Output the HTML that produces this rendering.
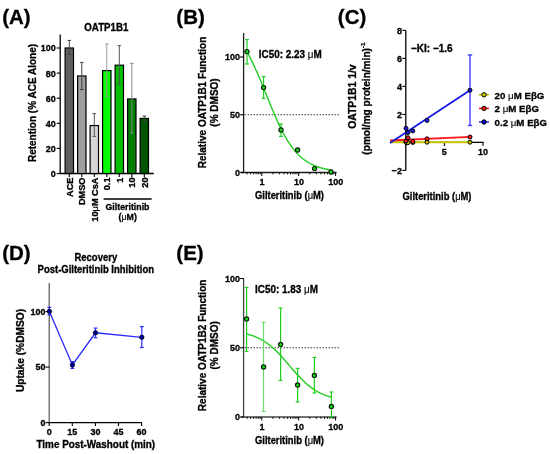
<!DOCTYPE html>
<html><head><meta charset="utf-8"><style>
html,body{margin:0;padding:0;background:#fff;width:550px;height:454px;overflow:hidden}
svg{position:absolute;left:0;top:0;will-change:transform}
text{font-family:"Liberation Sans",sans-serif;font-weight:bold;stroke:#000;stroke-width:0.3px}
</style></head><body>
<svg width="550" height="454" viewBox="0 0 550 454">
<rect width="550" height="454" fill="#fff"/>
<text transform="translate(2.20,24.20) scale(1,1.0)" font-size="20.5" text-anchor="start" fill="#000" >(A)</text>
<text transform="translate(176.30,24.20) scale(1,1.0)" font-size="20.5" text-anchor="start" fill="#000" >(B)</text>
<text transform="translate(337.80,24.20) scale(1,1.0)" font-size="20.5" text-anchor="start" fill="#000" >(C)</text>
<text transform="translate(2.20,260.20) scale(1,1.0)" font-size="20.5" text-anchor="start" fill="#000" >(D)</text>
<text transform="translate(176.30,260.20) scale(1,1.0)" font-size="20.5" text-anchor="start" fill="#000" >(E)</text>
<text transform="translate(106.30,30.80) scale(1,1.08)" font-size="9.7" text-anchor="middle" fill="#000" >OATP1B1</text>
<line x1="60.20" y1="34.50" x2="60.20" y2="174.10" stroke="#000" stroke-width="1.3" />
<line x1="59.60" y1="173.50" x2="153.80" y2="173.50" stroke="#000" stroke-width="1.3" />
<line x1="56.70" y1="173.50" x2="60.20" y2="173.50" stroke="#000" stroke-width="1.1" />
<text transform="translate(55.80,176.90) scale(1,1.08)" font-size="9" text-anchor="end" fill="#000" >0</text>
<line x1="56.70" y1="148.40" x2="60.20" y2="148.40" stroke="#000" stroke-width="1.1" />
<text transform="translate(55.80,151.80) scale(1,1.08)" font-size="9" text-anchor="end" fill="#000" >20</text>
<line x1="56.70" y1="123.30" x2="60.20" y2="123.30" stroke="#000" stroke-width="1.1" />
<text transform="translate(55.80,126.70) scale(1,1.08)" font-size="9" text-anchor="end" fill="#000" >40</text>
<line x1="56.70" y1="98.20" x2="60.20" y2="98.20" stroke="#000" stroke-width="1.1" />
<text transform="translate(55.80,101.60) scale(1,1.08)" font-size="9" text-anchor="end" fill="#000" >60</text>
<line x1="56.70" y1="73.10" x2="60.20" y2="73.10" stroke="#000" stroke-width="1.1" />
<text transform="translate(55.80,76.50) scale(1,1.08)" font-size="9" text-anchor="end" fill="#000" >80</text>
<line x1="56.70" y1="48.00" x2="60.20" y2="48.00" stroke="#000" stroke-width="1.1" />
<text transform="translate(55.80,51.40) scale(1,1.08)" font-size="9" text-anchor="end" fill="#000" >100</text>
<text transform="translate(36.00,103.00) rotate(-90)" font-size="10" text-anchor="middle" fill="#000" >Retention (% ACE Alone)</text>
<rect x="65.10" y="48.00" width="8.40" height="125.50" fill="#5f5f5f" stroke="#000" stroke-width="1.2"/>
<line x1="69.30" y1="40.40" x2="69.30" y2="48.00" stroke="#444" stroke-width="1.0" />
<line x1="67.50" y1="40.40" x2="71.10" y2="40.40" stroke="#444" stroke-width="1.0" />
<line x1="69.30" y1="48.00" x2="69.30" y2="54.40" stroke="#444" stroke-width="1.0" />
<line x1="67.50" y1="54.40" x2="71.10" y2="54.40" stroke="#444" stroke-width="1.0" />
<line x1="69.30" y1="173.50" x2="69.30" y2="177.00" stroke="#000" stroke-width="1.1" />
<text transform="translate(72.50,177.50) rotate(-90)" font-size="9.2" text-anchor="end" fill="#000" >ACE</text>
<rect x="77.60" y="75.99" width="8.40" height="97.51" fill="#9e9e9e" stroke="#000" stroke-width="1.2"/>
<line x1="81.80" y1="62.40" x2="81.80" y2="75.99" stroke="#444" stroke-width="1.0" />
<line x1="80.00" y1="62.40" x2="83.60" y2="62.40" stroke="#444" stroke-width="1.0" />
<line x1="81.80" y1="75.99" x2="81.80" y2="89.60" stroke="#444" stroke-width="1.0" />
<line x1="80.00" y1="89.60" x2="83.60" y2="89.60" stroke="#444" stroke-width="1.0" />
<line x1="81.80" y1="173.50" x2="81.80" y2="177.00" stroke="#000" stroke-width="1.1" />
<text transform="translate(85.00,177.50) rotate(-90)" font-size="9.2" text-anchor="end" fill="#000" >DMSO</text>
<rect x="90.10" y="125.56" width="8.40" height="47.94" fill="#d6d6d6" stroke="#000" stroke-width="1.2"/>
<line x1="94.30" y1="113.60" x2="94.30" y2="125.56" stroke="#555" stroke-width="1.0" />
<line x1="92.50" y1="113.60" x2="96.10" y2="113.60" stroke="#555" stroke-width="1.0" />
<line x1="94.30" y1="125.56" x2="94.30" y2="136.40" stroke="#555" stroke-width="1.0" />
<line x1="92.50" y1="136.40" x2="96.10" y2="136.40" stroke="#555" stroke-width="1.0" />
<line x1="94.30" y1="173.50" x2="94.30" y2="177.00" stroke="#000" stroke-width="1.1" />
<text transform="translate(97.50,177.50) rotate(-90)" font-size="9.2" text-anchor="end" fill="#000" >10<tspan style="font-weight:normal;stroke-width:0.15px">&#956;</tspan>M CsA</text>
<rect x="102.60" y="70.59" width="8.40" height="102.91" fill="#00ff00" stroke="#000" stroke-width="1.2"/>
<line x1="106.80" y1="44.00" x2="106.80" y2="70.59" stroke="#999" stroke-width="1.0" />
<line x1="105.00" y1="44.00" x2="108.60" y2="44.00" stroke="#999" stroke-width="1.0" />
<line x1="106.80" y1="70.59" x2="106.80" y2="96.50" stroke="#999" stroke-width="1.0" />
<line x1="105.00" y1="96.50" x2="108.60" y2="96.50" stroke="#999" stroke-width="1.0" />
<line x1="106.80" y1="173.50" x2="106.80" y2="177.00" stroke="#000" stroke-width="1.1" />
<text transform="translate(110.00,177.50) rotate(-90)" font-size="9.2" text-anchor="end" fill="#000" >0.1</text>
<rect x="115.10" y="65.19" width="8.40" height="108.31" fill="#00c000" stroke="#000" stroke-width="1.2"/>
<line x1="119.30" y1="45.60" x2="119.30" y2="65.19" stroke="#555" stroke-width="1.0" />
<line x1="117.50" y1="45.60" x2="121.10" y2="45.60" stroke="#555" stroke-width="1.0" />
<line x1="119.30" y1="65.19" x2="119.30" y2="84.40" stroke="#555" stroke-width="1.0" />
<line x1="117.50" y1="84.40" x2="121.10" y2="84.40" stroke="#555" stroke-width="1.0" />
<line x1="119.30" y1="173.50" x2="119.30" y2="177.00" stroke="#000" stroke-width="1.1" />
<text transform="translate(122.50,177.50) rotate(-90)" font-size="9.2" text-anchor="end" fill="#000" >1</text>
<rect x="127.60" y="98.95" width="8.40" height="74.55" fill="#008000" stroke="#000" stroke-width="1.2"/>
<line x1="131.80" y1="63.40" x2="131.80" y2="98.95" stroke="#888" stroke-width="1.0" />
<line x1="130.00" y1="63.40" x2="133.60" y2="63.40" stroke="#888" stroke-width="1.0" />
<line x1="131.80" y1="98.95" x2="131.80" y2="133.00" stroke="#888" stroke-width="1.0" />
<line x1="130.00" y1="133.00" x2="133.60" y2="133.00" stroke="#888" stroke-width="1.0" />
<line x1="131.80" y1="173.50" x2="131.80" y2="177.00" stroke="#000" stroke-width="1.1" />
<text transform="translate(135.00,177.50) rotate(-90)" font-size="9.2" text-anchor="end" fill="#000" >10</text>
<rect x="140.10" y="118.41" width="8.40" height="55.09" fill="#005500" stroke="#000" stroke-width="1.2"/>
<line x1="144.30" y1="116.00" x2="144.30" y2="118.41" stroke="#444" stroke-width="1.0" />
<line x1="142.50" y1="116.00" x2="146.10" y2="116.00" stroke="#444" stroke-width="1.0" />
<line x1="144.30" y1="118.41" x2="144.30" y2="121.00" stroke="#444" stroke-width="1.0" />
<line x1="142.50" y1="121.00" x2="146.10" y2="121.00" stroke="#444" stroke-width="1.0" />
<line x1="144.30" y1="173.50" x2="144.30" y2="177.00" stroke="#000" stroke-width="1.1" />
<text transform="translate(147.50,177.50) rotate(-90)" font-size="9.2" text-anchor="end" fill="#000" >20</text>
<line x1="103.60" y1="199.00" x2="151.60" y2="199.00" stroke="#000" stroke-width="1.5" />
<text transform="translate(127.50,210.00) scale(1,1.08)" font-size="8.8" text-anchor="middle" fill="#000" >Gilteritinib</text>
<text transform="translate(127.70,220.00) scale(1,1.08)" font-size="8.8" text-anchor="middle" fill="#000" >(<tspan style="font-weight:normal;stroke-width:0.15px">&#956;</tspan>M)</text>
<line x1="243.60" y1="33.00" x2="243.60" y2="173.10" stroke="#1a1a1a" stroke-width="1.3" />
<line x1="241.00" y1="172.50" x2="336.60" y2="172.50" stroke="#1a1a1a" stroke-width="1.3" />
<line x1="240.10" y1="172.50" x2="243.60" y2="172.50" stroke="#000" stroke-width="1.1" />
<text transform="translate(239.90,175.90) scale(1,1.08)" font-size="9" text-anchor="end" fill="#000" >0</text>
<line x1="240.10" y1="114.75" x2="243.60" y2="114.75" stroke="#000" stroke-width="1.1" />
<text transform="translate(239.90,118.15) scale(1,1.08)" font-size="9" text-anchor="end" fill="#000" >50</text>
<line x1="240.10" y1="57.00" x2="243.60" y2="57.00" stroke="#000" stroke-width="1.1" />
<text transform="translate(239.90,60.40) scale(1,1.08)" font-size="9" text-anchor="end" fill="#000" >100</text>
<line x1="247.12" y1="172.50" x2="247.12" y2="174.30" stroke="#000" stroke-width="1.0" />
<line x1="250.69" y1="172.50" x2="250.69" y2="174.30" stroke="#000" stroke-width="1.0" />
<line x1="253.61" y1="172.50" x2="253.61" y2="174.30" stroke="#000" stroke-width="1.0" />
<line x1="256.08" y1="172.50" x2="256.08" y2="174.30" stroke="#000" stroke-width="1.0" />
<line x1="258.22" y1="172.50" x2="258.22" y2="174.30" stroke="#000" stroke-width="1.0" />
<line x1="260.11" y1="172.50" x2="260.11" y2="174.30" stroke="#000" stroke-width="1.0" />
<line x1="261.80" y1="172.50" x2="261.80" y2="176.00" stroke="#000" stroke-width="1.0" />
<line x1="272.91" y1="172.50" x2="272.91" y2="174.30" stroke="#000" stroke-width="1.0" />
<line x1="279.41" y1="172.50" x2="279.41" y2="174.30" stroke="#000" stroke-width="1.0" />
<line x1="284.02" y1="172.50" x2="284.02" y2="174.30" stroke="#000" stroke-width="1.0" />
<line x1="287.59" y1="172.50" x2="287.59" y2="174.30" stroke="#000" stroke-width="1.0" />
<line x1="290.51" y1="172.50" x2="290.51" y2="174.30" stroke="#000" stroke-width="1.0" />
<line x1="292.98" y1="172.50" x2="292.98" y2="174.30" stroke="#000" stroke-width="1.0" />
<line x1="295.12" y1="172.50" x2="295.12" y2="174.30" stroke="#000" stroke-width="1.0" />
<line x1="297.01" y1="172.50" x2="297.01" y2="174.30" stroke="#000" stroke-width="1.0" />
<line x1="298.70" y1="172.50" x2="298.70" y2="176.00" stroke="#000" stroke-width="1.0" />
<line x1="309.81" y1="172.50" x2="309.81" y2="174.30" stroke="#000" stroke-width="1.0" />
<line x1="316.31" y1="172.50" x2="316.31" y2="174.30" stroke="#000" stroke-width="1.0" />
<line x1="320.92" y1="172.50" x2="320.92" y2="174.30" stroke="#000" stroke-width="1.0" />
<line x1="324.49" y1="172.50" x2="324.49" y2="174.30" stroke="#000" stroke-width="1.0" />
<line x1="327.41" y1="172.50" x2="327.41" y2="174.30" stroke="#000" stroke-width="1.0" />
<line x1="329.88" y1="172.50" x2="329.88" y2="174.30" stroke="#000" stroke-width="1.0" />
<line x1="332.02" y1="172.50" x2="332.02" y2="174.30" stroke="#000" stroke-width="1.0" />
<line x1="333.91" y1="172.50" x2="333.91" y2="174.30" stroke="#000" stroke-width="1.0" />
<line x1="335.60" y1="172.50" x2="335.60" y2="176.00" stroke="#000" stroke-width="1.0" />
<text transform="translate(262.00,185.00) scale(1,1.08)" font-size="9" text-anchor="middle" fill="#000" >1</text>
<text transform="translate(299.00,185.00) scale(1,1.08)" font-size="9" text-anchor="middle" fill="#000" >10</text>
<text transform="translate(335.80,185.00) scale(1,1.08)" font-size="9" text-anchor="middle" fill="#000" >100</text>
<text transform="translate(289.50,199.30) scale(1,1.08)" font-size="9.4" text-anchor="middle" fill="#000" >Gilteritinib (<tspan style="font-weight:normal;stroke-width:0.15px">&#956;</tspan>M)</text>
<line x1="244.60" y1="114.75" x2="340.00" y2="114.75" stroke="#000" stroke-width="1.0" stroke-dasharray="1.2,1.8"/>
<polyline points="247.00,51.98 248.42,54.52 249.85,57.19 251.27,59.97 252.69,62.87 254.12,65.87 255.54,68.98 256.97,72.18 258.39,75.47 259.81,78.83 261.24,82.25 262.66,85.72 264.08,89.22 265.51,92.75 266.93,96.28 268.36,99.81 269.78,103.32 271.20,106.79 272.63,110.21 274.05,113.56 275.47,116.85 276.90,120.05 278.32,123.16 279.75,126.16 281.17,129.06 282.59,131.85 284.02,134.51 285.44,137.05 286.86,139.48 288.29,141.77 289.71,143.95 291.14,146.00 292.56,147.94 293.98,149.76 295.41,151.46 296.83,153.06 298.25,154.55 299.68,155.94 301.10,157.23 302.53,158.44 303.95,159.56 305.37,160.59 306.80,161.55 308.22,162.44 309.64,163.26 311.07,164.02 312.49,164.72 313.92,165.36 315.34,165.95 316.76,166.50 318.19,167.00 319.61,167.46 321.03,167.88 322.46,168.27 323.88,168.63 325.31,168.96 326.73,169.26 328.15,169.53 329.58,169.79 331.00,170.02" fill="none" stroke="#22cc22" stroke-width="1.4" />
<line x1="247.00" y1="39.60" x2="247.00" y2="64.00" stroke="#22cc22" stroke-width="1.2" />
<line x1="245.10" y1="39.60" x2="248.90" y2="39.60" stroke="#22cc22" stroke-width="1.2" />
<line x1="245.10" y1="64.00" x2="248.90" y2="64.00" stroke="#22cc22" stroke-width="1.2" />
<line x1="263.60" y1="76.60" x2="263.60" y2="98.40" stroke="#22cc22" stroke-width="1.2" />
<line x1="261.70" y1="76.60" x2="265.50" y2="76.60" stroke="#22cc22" stroke-width="1.2" />
<line x1="261.70" y1="98.40" x2="265.50" y2="98.40" stroke="#22cc22" stroke-width="1.2" />
<line x1="281.00" y1="124.00" x2="281.00" y2="136.40" stroke="#22cc22" stroke-width="1.2" />
<line x1="279.10" y1="124.00" x2="282.90" y2="124.00" stroke="#22cc22" stroke-width="1.2" />
<line x1="279.10" y1="136.40" x2="282.90" y2="136.40" stroke="#22cc22" stroke-width="1.2" />
<circle cx="247.00" cy="51.60" r="2.1" fill="#11dd11" stroke="#0a1a0a" stroke-width="1.15"/>
<circle cx="263.60" cy="87.60" r="2.1" fill="#11dd11" stroke="#0a1a0a" stroke-width="1.15"/>
<circle cx="281.00" cy="130.00" r="2.1" fill="#11dd11" stroke="#0a1a0a" stroke-width="1.15"/>
<circle cx="297.60" cy="150.00" r="2.1" fill="#11dd11" stroke="#0a1a0a" stroke-width="1.15"/>
<circle cx="314.60" cy="168.60" r="2.1" fill="#11dd11" stroke="#0a1a0a" stroke-width="1.15"/>
<circle cx="331.00" cy="172.00" r="2.1" fill="#11dd11" stroke="#0a1a0a" stroke-width="1.15"/>
<text transform="translate(258.80,58.40) scale(1,1.08)" font-size="9.9" text-anchor="start" fill="#000" >IC50: 2.23 <tspan style="font-weight:normal;stroke-width:0.15px">&#956;</tspan>M</text>
<text transform="translate(206.20,102.50) rotate(-90)" font-size="10" text-anchor="middle" fill="#000" >Relative OATP1B1 Function</text>
<text transform="translate(218.20,102.50) rotate(-90)" font-size="10" text-anchor="middle" fill="#000" >(% DMSO)</text>
<line x1="243.60" y1="278.20" x2="243.60" y2="417.60" stroke="#444" stroke-width="1.3" />
<line x1="241.00" y1="417.00" x2="336.60" y2="417.00" stroke="#444" stroke-width="1.3" />
<line x1="240.10" y1="417.00" x2="243.60" y2="417.00" stroke="#000" stroke-width="1.1" />
<text transform="translate(239.90,420.40) scale(1,1.08)" font-size="9" text-anchor="end" fill="#000" >0</text>
<line x1="240.10" y1="347.75" x2="243.60" y2="347.75" stroke="#000" stroke-width="1.1" />
<text transform="translate(239.90,351.15) scale(1,1.08)" font-size="9" text-anchor="end" fill="#000" >50</text>
<line x1="240.10" y1="278.50" x2="243.60" y2="278.50" stroke="#000" stroke-width="1.1" />
<text transform="translate(239.90,281.90) scale(1,1.08)" font-size="9" text-anchor="end" fill="#000" >100</text>
<line x1="247.12" y1="417.00" x2="247.12" y2="418.80" stroke="#000" stroke-width="1.0" />
<line x1="250.69" y1="417.00" x2="250.69" y2="418.80" stroke="#000" stroke-width="1.0" />
<line x1="253.61" y1="417.00" x2="253.61" y2="418.80" stroke="#000" stroke-width="1.0" />
<line x1="256.08" y1="417.00" x2="256.08" y2="418.80" stroke="#000" stroke-width="1.0" />
<line x1="258.22" y1="417.00" x2="258.22" y2="418.80" stroke="#000" stroke-width="1.0" />
<line x1="260.11" y1="417.00" x2="260.11" y2="418.80" stroke="#000" stroke-width="1.0" />
<line x1="261.80" y1="417.00" x2="261.80" y2="420.50" stroke="#000" stroke-width="1.0" />
<line x1="272.91" y1="417.00" x2="272.91" y2="418.80" stroke="#000" stroke-width="1.0" />
<line x1="279.41" y1="417.00" x2="279.41" y2="418.80" stroke="#000" stroke-width="1.0" />
<line x1="284.02" y1="417.00" x2="284.02" y2="418.80" stroke="#000" stroke-width="1.0" />
<line x1="287.59" y1="417.00" x2="287.59" y2="418.80" stroke="#000" stroke-width="1.0" />
<line x1="290.51" y1="417.00" x2="290.51" y2="418.80" stroke="#000" stroke-width="1.0" />
<line x1="292.98" y1="417.00" x2="292.98" y2="418.80" stroke="#000" stroke-width="1.0" />
<line x1="295.12" y1="417.00" x2="295.12" y2="418.80" stroke="#000" stroke-width="1.0" />
<line x1="297.01" y1="417.00" x2="297.01" y2="418.80" stroke="#000" stroke-width="1.0" />
<line x1="298.70" y1="417.00" x2="298.70" y2="420.50" stroke="#000" stroke-width="1.0" />
<line x1="309.81" y1="417.00" x2="309.81" y2="418.80" stroke="#000" stroke-width="1.0" />
<line x1="316.31" y1="417.00" x2="316.31" y2="418.80" stroke="#000" stroke-width="1.0" />
<line x1="320.92" y1="417.00" x2="320.92" y2="418.80" stroke="#000" stroke-width="1.0" />
<line x1="324.49" y1="417.00" x2="324.49" y2="418.80" stroke="#000" stroke-width="1.0" />
<line x1="327.41" y1="417.00" x2="327.41" y2="418.80" stroke="#000" stroke-width="1.0" />
<line x1="329.88" y1="417.00" x2="329.88" y2="418.80" stroke="#000" stroke-width="1.0" />
<line x1="332.02" y1="417.00" x2="332.02" y2="418.80" stroke="#000" stroke-width="1.0" />
<line x1="333.91" y1="417.00" x2="333.91" y2="418.80" stroke="#000" stroke-width="1.0" />
<line x1="335.60" y1="417.00" x2="335.60" y2="420.50" stroke="#000" stroke-width="1.0" />
<text transform="translate(262.00,429.50) scale(1,1.08)" font-size="9" text-anchor="middle" fill="#000" >1</text>
<text transform="translate(299.00,429.50) scale(1,1.08)" font-size="9" text-anchor="middle" fill="#000" >10</text>
<text transform="translate(335.80,429.50) scale(1,1.08)" font-size="9" text-anchor="middle" fill="#000" >100</text>
<text transform="translate(289.50,443.80) scale(1,1.08)" font-size="9.4" text-anchor="middle" fill="#000" >Gilteritinib (<tspan style="font-weight:normal;stroke-width:0.15px">&#956;</tspan>M)</text>
<line x1="244.60" y1="347.75" x2="340.00" y2="347.75" stroke="#000" stroke-width="1.0" stroke-dasharray="1.2,1.8"/>
<polyline points="246.60,333.94 248.04,334.32 249.47,334.72 250.91,335.16 252.35,335.64 253.79,336.16 255.22,336.72 256.66,337.32 258.10,337.97 259.54,338.67 260.97,339.42 262.41,340.23 263.85,341.09 265.28,342.00 266.72,342.98 268.16,344.02 269.60,345.12 271.03,346.28 272.47,347.50 273.91,348.78 275.35,350.12 276.78,351.52 278.22,352.97 279.66,354.47 281.09,356.01 282.53,357.59 283.97,359.21 285.41,360.86 286.84,362.52 288.28,364.21 289.72,365.89 291.16,367.58 292.59,369.26 294.03,370.92 295.47,372.56 296.91,374.17 298.34,375.75 299.78,377.28 301.22,378.77 302.65,380.20 304.09,381.59 305.53,382.91 306.97,384.18 308.40,385.39 309.84,386.53 311.28,387.62 312.72,388.64 314.15,389.61 315.59,390.51 317.03,391.36 318.46,392.15 319.90,392.89 321.34,393.58 322.78,394.22 324.21,394.81 325.65,395.36 327.09,395.86 328.53,396.33 329.96,396.77 331.40,397.16" fill="none" stroke="#22cc22" stroke-width="1.4" />
<line x1="246.60" y1="287.40" x2="246.60" y2="351.40" stroke="#22cc22" stroke-width="1.2" />
<line x1="244.70" y1="287.40" x2="248.50" y2="287.40" stroke="#22cc22" stroke-width="1.2" />
<line x1="244.70" y1="351.40" x2="248.50" y2="351.40" stroke="#22cc22" stroke-width="1.2" />
<line x1="263.60" y1="322.40" x2="263.60" y2="411.40" stroke="#55dd55" stroke-width="1.0" />
<line x1="261.70" y1="322.40" x2="265.50" y2="322.40" stroke="#55dd55" stroke-width="1.0" />
<line x1="261.70" y1="411.40" x2="265.50" y2="411.40" stroke="#55dd55" stroke-width="1.0" />
<line x1="280.60" y1="308.00" x2="280.60" y2="380.40" stroke="#22cc22" stroke-width="1.2" />
<line x1="278.70" y1="308.00" x2="282.50" y2="308.00" stroke="#22cc22" stroke-width="1.2" />
<line x1="278.70" y1="380.40" x2="282.50" y2="380.40" stroke="#22cc22" stroke-width="1.2" />
<line x1="297.60" y1="368.40" x2="297.60" y2="402.00" stroke="#22cc22" stroke-width="1.2" />
<line x1="295.70" y1="368.40" x2="299.50" y2="368.40" stroke="#22cc22" stroke-width="1.2" />
<line x1="295.70" y1="402.00" x2="299.50" y2="402.00" stroke="#22cc22" stroke-width="1.2" />
<line x1="314.40" y1="357.40" x2="314.40" y2="393.00" stroke="#22cc22" stroke-width="1.2" />
<line x1="312.50" y1="357.40" x2="316.30" y2="357.40" stroke="#22cc22" stroke-width="1.2" />
<line x1="312.50" y1="393.00" x2="316.30" y2="393.00" stroke="#22cc22" stroke-width="1.2" />
<line x1="331.40" y1="392.00" x2="331.40" y2="417.00" stroke="#22cc22" stroke-width="1.2" />
<line x1="329.50" y1="392.00" x2="333.30" y2="392.00" stroke="#22cc22" stroke-width="1.2" />
<line x1="329.50" y1="417.00" x2="333.30" y2="417.00" stroke="#22cc22" stroke-width="1.2" />
<circle cx="246.60" cy="319.00" r="2.1" fill="#11dd11" stroke="#0a1a0a" stroke-width="1.15"/>
<circle cx="263.60" cy="367.00" r="2.1" fill="#11dd11" stroke="#0a1a0a" stroke-width="1.15"/>
<circle cx="280.60" cy="344.40" r="2.1" fill="#11dd11" stroke="#0a1a0a" stroke-width="1.15"/>
<circle cx="297.60" cy="385.00" r="2.1" fill="#11dd11" stroke="#0a1a0a" stroke-width="1.15"/>
<circle cx="314.40" cy="375.40" r="2.1" fill="#11dd11" stroke="#0a1a0a" stroke-width="1.15"/>
<circle cx="331.40" cy="406.40" r="2.1" fill="#11dd11" stroke="#0a1a0a" stroke-width="1.15"/>
<text transform="translate(255.00,292.60) scale(1,1.08)" font-size="9.9" text-anchor="start" fill="#000" >IC50: 1.83 <tspan style="font-weight:normal;stroke-width:0.15px">&#956;</tspan>M</text>
<text transform="translate(206.20,345.40) rotate(-90)" font-size="10" text-anchor="middle" fill="#000" >Relative OATP1B2 Function</text>
<text transform="translate(218.20,345.40) rotate(-90)" font-size="10" text-anchor="middle" fill="#000" >(% DMSO)</text>
<line x1="405.80" y1="30.50" x2="405.80" y2="170.60" stroke="#000" stroke-width="1.3" />
<line x1="390.00" y1="142.40" x2="483.60" y2="142.40" stroke="#000" stroke-width="1.3" />
<line x1="402.30" y1="30.40" x2="405.80" y2="30.40" stroke="#000" stroke-width="1.1" />
<text transform="translate(402.10,33.80) scale(1,1.08)" font-size="9" text-anchor="end" fill="#000" >8</text>
<line x1="402.30" y1="58.40" x2="405.80" y2="58.40" stroke="#000" stroke-width="1.1" />
<text transform="translate(402.10,61.80) scale(1,1.08)" font-size="9" text-anchor="end" fill="#000" >6</text>
<line x1="402.30" y1="86.40" x2="405.80" y2="86.40" stroke="#000" stroke-width="1.1" />
<text transform="translate(402.10,89.80) scale(1,1.08)" font-size="9" text-anchor="end" fill="#000" >4</text>
<line x1="402.30" y1="114.40" x2="405.80" y2="114.40" stroke="#000" stroke-width="1.1" />
<text transform="translate(402.10,117.80) scale(1,1.08)" font-size="9" text-anchor="end" fill="#000" >2</text>
<line x1="402.30" y1="170.40" x2="405.80" y2="170.40" stroke="#000" stroke-width="1.1" />
<text transform="translate(402.10,173.80) scale(1,1.08)" font-size="9" text-anchor="end" fill="#000" >&#8722;2</text>
<line x1="405.80" y1="142.40" x2="405.80" y2="145.90" stroke="#000" stroke-width="1.1" />
<line x1="444.40" y1="142.40" x2="444.40" y2="145.90" stroke="#000" stroke-width="1.1" />
<line x1="483.00" y1="142.40" x2="483.00" y2="145.90" stroke="#000" stroke-width="1.1" />
<text transform="translate(444.30,155.20) scale(1,1.08)" font-size="9" text-anchor="middle" fill="#000" >5</text>
<text transform="translate(483.00,155.20) scale(1,1.08)" font-size="9" text-anchor="middle" fill="#000" >10</text>
<line x1="390.00" y1="142.20" x2="470.00" y2="142.20" stroke="#c8c800" stroke-width="1.9" />
<line x1="390.00" y1="140.50" x2="470.00" y2="136.80" stroke="#ff1a1a" stroke-width="1.8" />
<line x1="390.00" y1="143.00" x2="470.00" y2="90.30" stroke="#1818e8" stroke-width="1.8" />
<line x1="470.00" y1="55.00" x2="470.00" y2="125.50" stroke="#4040ff" stroke-width="1.4" />
<line x1="467.80" y1="55.00" x2="472.20" y2="55.00" stroke="#4040ff" stroke-width="1.4" />
<line x1="467.80" y1="125.50" x2="472.20" y2="125.50" stroke="#4040ff" stroke-width="1.4" />
<circle cx="406.00" cy="142.40" r="2.0" fill="#c8c800" stroke="#000" stroke-width="1.0"/>
<circle cx="408.00" cy="142.60" r="2.0" fill="#c8c800" stroke="#000" stroke-width="1.0"/>
<circle cx="412.80" cy="142.50" r="2.0" fill="#c8c800" stroke="#000" stroke-width="1.0"/>
<circle cx="427.00" cy="142.20" r="2.0" fill="#c8c800" stroke="#000" stroke-width="1.0"/>
<circle cx="470.00" cy="142.20" r="2.0" fill="#c8c800" stroke="#000" stroke-width="1.0"/>
<circle cx="406.00" cy="141.00" r="2.0" fill="#ff1a1a" stroke="#000" stroke-width="1.0"/>
<circle cx="408.00" cy="137.80" r="2.0" fill="#ff1a1a" stroke="#000" stroke-width="1.0"/>
<circle cx="412.80" cy="141.40" r="2.0" fill="#ff1a1a" stroke="#000" stroke-width="1.0"/>
<circle cx="427.00" cy="138.80" r="2.0" fill="#ff1a1a" stroke="#000" stroke-width="1.0"/>
<circle cx="470.00" cy="137.00" r="2.0" fill="#ff1a1a" stroke="#000" stroke-width="1.0"/>
<circle cx="406.00" cy="128.30" r="2.0" fill="#1a1af0" stroke="#000" stroke-width="1.0"/>
<circle cx="408.00" cy="132.50" r="2.0" fill="#1a1af0" stroke="#000" stroke-width="1.0"/>
<circle cx="412.80" cy="130.90" r="2.0" fill="#1a1af0" stroke="#000" stroke-width="1.0"/>
<circle cx="427.00" cy="120.40" r="2.0" fill="#1a1af0" stroke="#000" stroke-width="1.0"/>
<circle cx="470.00" cy="90.20" r="2.0" fill="#1a1af0" stroke="#000" stroke-width="1.0"/>
<text transform="translate(411.00,52.00) scale(1,1.08)" font-size="10" text-anchor="start" fill="#000" >&#8722;KI: &#8722;1.6</text>
<line x1="479.00" y1="94.80" x2="489.00" y2="94.80" stroke="#c8c800" stroke-width="1.6" />
<circle cx="484.00" cy="94.80" r="2.2" fill="#c8c800" stroke="#000" stroke-width="1.0"/>
<text transform="translate(494.60,98.50) scale(1,0.96)" font-size="9.7" text-anchor="start" fill="#000" >20 <tspan style="font-weight:normal;stroke-width:0.15px">&#956;</tspan>M E&#946;G</text>
<line x1="479.00" y1="108.40" x2="489.00" y2="108.40" stroke="#ff1a1a" stroke-width="1.6" />
<circle cx="484.00" cy="108.40" r="2.2" fill="#ff1a1a" stroke="#000" stroke-width="1.0"/>
<text transform="translate(494.60,112.10) scale(1,0.96)" font-size="9.7" text-anchor="start" fill="#000" >2 <tspan style="font-weight:normal;stroke-width:0.15px">&#956;</tspan>M E&#946;G</text>
<line x1="479.00" y1="122.00" x2="489.00" y2="122.00" stroke="#3333ff" stroke-width="1.6" />
<circle cx="484.00" cy="122.00" r="2.2" fill="#0000cc" stroke="#000" stroke-width="1.0"/>
<text transform="translate(494.60,125.70) scale(1,0.96)" font-size="9.7" text-anchor="start" fill="#000" >0.2 <tspan style="font-weight:normal;stroke-width:0.15px">&#956;</tspan>M E&#946;G</text>
<text transform="translate(437.00,199.60) scale(1,1.08)" font-size="9.4" text-anchor="middle" fill="#000" >Gilteritinib (<tspan style="font-weight:normal;stroke-width:0.15px">&#956;</tspan>M)</text>
<text transform="translate(355.80,96.60) rotate(-90)" font-size="10.4" text-anchor="middle" fill="#000" >OATP1B1 1/v</text>
<text transform="translate(369.80,98.60) rotate(-90)" font-size="10.1" text-anchor="middle" fill="#000" >(pmol/mg protein/min)<tspan font-size="6.2" dy="-5">-1</tspan></text>
<line x1="49.20" y1="283.00" x2="49.20" y2="423.20" stroke="#555" stroke-width="1.2" />
<line x1="48.60" y1="422.60" x2="141.80" y2="422.60" stroke="#000" stroke-width="1.3" />
<line x1="45.70" y1="422.60" x2="49.20" y2="422.60" stroke="#000" stroke-width="1.1" />
<text transform="translate(45.50,426.00) scale(1,1.08)" font-size="9" text-anchor="end" fill="#000" >0</text>
<line x1="45.70" y1="367.08" x2="49.20" y2="367.08" stroke="#000" stroke-width="1.1" />
<text transform="translate(45.50,370.48) scale(1,1.08)" font-size="9" text-anchor="end" fill="#000" >50</text>
<line x1="45.70" y1="311.56" x2="49.20" y2="311.56" stroke="#000" stroke-width="1.1" />
<text transform="translate(45.50,314.96) scale(1,1.08)" font-size="9" text-anchor="end" fill="#000" >100</text>
<line x1="49.20" y1="422.60" x2="49.20" y2="426.10" stroke="#000" stroke-width="1.1" />
<text transform="translate(49.20,435.20) scale(1,1.08)" font-size="9" text-anchor="middle" fill="#000" >0</text>
<line x1="72.30" y1="422.60" x2="72.30" y2="426.10" stroke="#000" stroke-width="1.1" />
<text transform="translate(72.30,435.20) scale(1,1.08)" font-size="9" text-anchor="middle" fill="#000" >15</text>
<line x1="95.40" y1="422.60" x2="95.40" y2="426.10" stroke="#000" stroke-width="1.1" />
<text transform="translate(95.40,435.20) scale(1,1.08)" font-size="9" text-anchor="middle" fill="#000" >30</text>
<line x1="118.50" y1="422.60" x2="118.50" y2="426.10" stroke="#000" stroke-width="1.1" />
<text transform="translate(118.50,435.20) scale(1,1.08)" font-size="9" text-anchor="middle" fill="#000" >45</text>
<line x1="141.60" y1="422.60" x2="141.60" y2="426.10" stroke="#000" stroke-width="1.1" />
<text transform="translate(141.60,435.20) scale(1,1.08)" font-size="9" text-anchor="middle" fill="#000" >60</text>
<text transform="translate(95.80,261.00) scale(1,1.08)" font-size="9.5" text-anchor="middle" fill="#000" >Recovery</text>
<text transform="translate(95.80,273.00) scale(1,1.08)" font-size="9.5" text-anchor="middle" fill="#000" >Post-Gilteritinib Inhibition</text>
<text transform="translate(95.80,448.10) scale(1,1.02)" font-size="9.9" text-anchor="middle" fill="#000" >Time Post-Washout (min)</text>
<text transform="translate(24.20,350.50) rotate(-90)" font-size="10.2" text-anchor="middle" fill="#000" >Uptake (%DMSO)</text>
<polyline points="49.40,311.40 72.40,365.00 95.50,332.80 141.80,337.30" fill="none" stroke="#2a2aff" stroke-width="1.3" />
<line x1="49.40" y1="307.40" x2="49.40" y2="315.00" stroke="#2a2aff" stroke-width="1.2" />
<line x1="47.50" y1="307.40" x2="51.30" y2="307.40" stroke="#2a2aff" stroke-width="1.2" />
<line x1="47.50" y1="315.00" x2="51.30" y2="315.00" stroke="#2a2aff" stroke-width="1.2" />
<line x1="72.40" y1="361.60" x2="72.40" y2="368.40" stroke="#2a2aff" stroke-width="1.2" />
<line x1="70.50" y1="361.60" x2="74.30" y2="361.60" stroke="#2a2aff" stroke-width="1.2" />
<line x1="70.50" y1="368.40" x2="74.30" y2="368.40" stroke="#2a2aff" stroke-width="1.2" />
<line x1="95.50" y1="328.10" x2="95.50" y2="337.70" stroke="#2a2aff" stroke-width="1.2" />
<line x1="93.60" y1="328.10" x2="97.40" y2="328.10" stroke="#2a2aff" stroke-width="1.2" />
<line x1="93.60" y1="337.70" x2="97.40" y2="337.70" stroke="#2a2aff" stroke-width="1.2" />
<line x1="141.80" y1="326.60" x2="141.80" y2="347.50" stroke="#2a2aff" stroke-width="1.2" />
<line x1="139.90" y1="326.60" x2="143.70" y2="326.60" stroke="#2a2aff" stroke-width="1.2" />
<line x1="139.90" y1="347.50" x2="143.70" y2="347.50" stroke="#2a2aff" stroke-width="1.2" />
<circle cx="49.40" cy="311.40" r="2.2" fill="#000088" stroke="#000030" stroke-width="0.8"/>
<circle cx="72.40" cy="365.00" r="2.2" fill="#000088" stroke="#000030" stroke-width="0.8"/>
<circle cx="95.50" cy="332.80" r="2.2" fill="#000088" stroke="#000030" stroke-width="0.8"/>
<circle cx="141.80" cy="337.30" r="2.2" fill="#000088" stroke="#000030" stroke-width="0.8"/>
</svg></body></html>
